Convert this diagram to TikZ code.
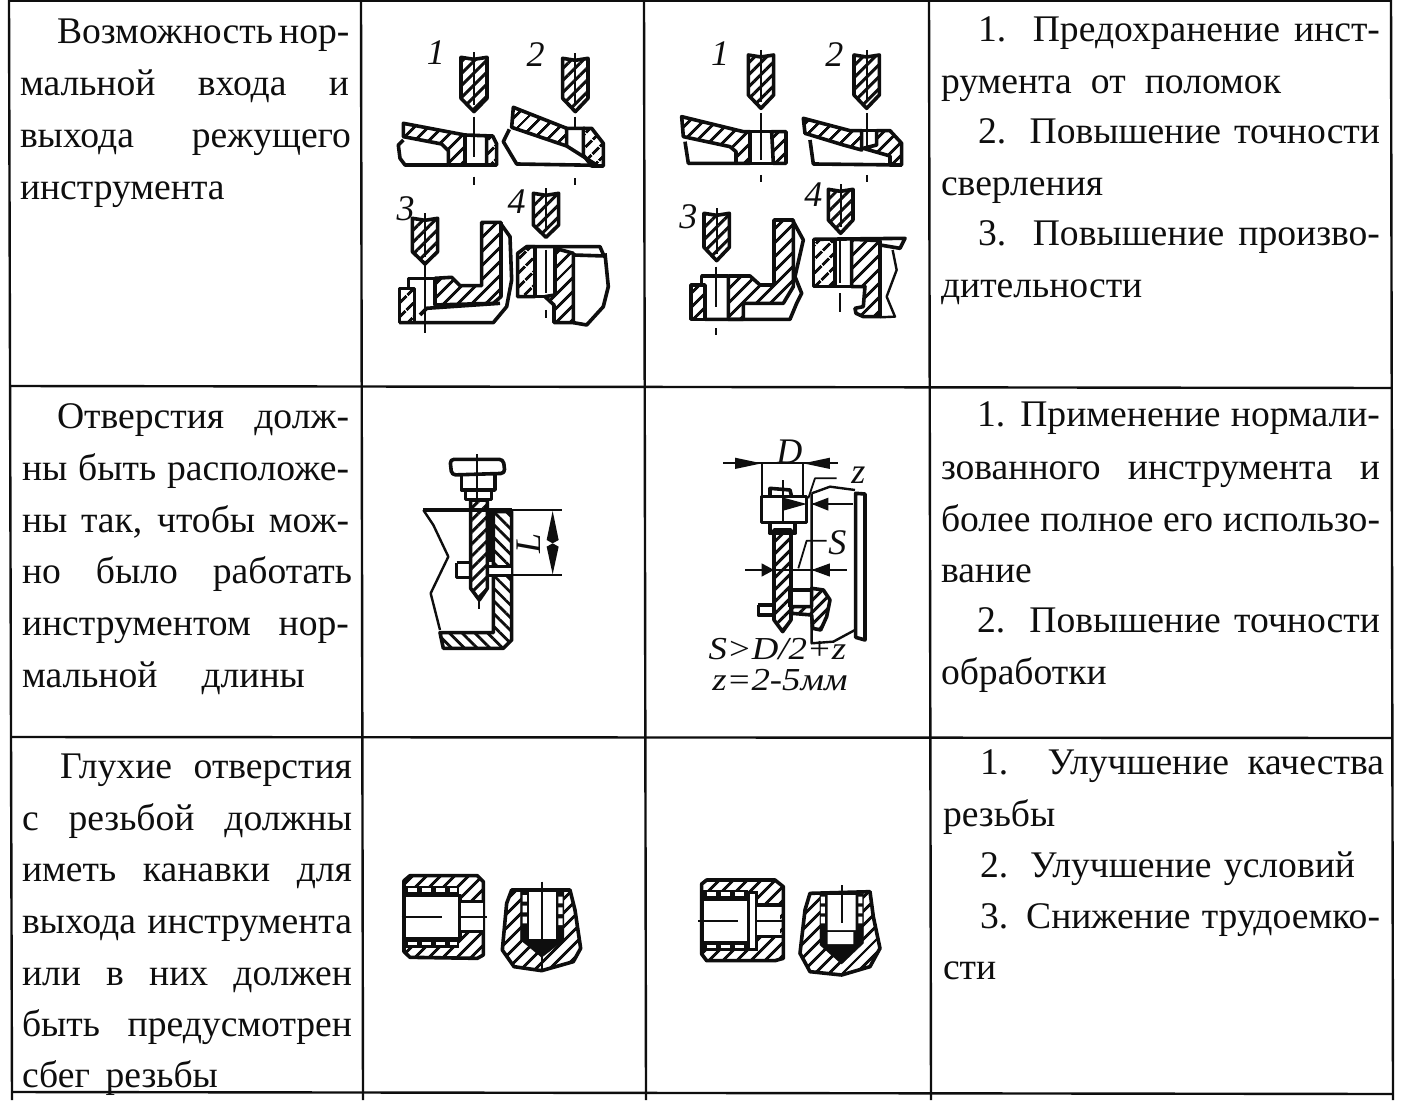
\documentclass[tikz,border=0pt]{standalone}
\usepackage{fontspec}
\setmainfont{Liberation Serif}
\usetikzlibrary{patterns.meta}
\definecolor{ink}{HTML}{0E0E0E}
\tikzset{
  rule/.style={draw=ink,line width=2.4pt},
  txt/.style={inner sep=0pt,outer sep=0pt,anchor=base west,text=ink,font=\fontsize{37.6}{40}\selectfont},
  lab/.style={inner sep=0pt,text=ink,font=\fontsize{36}{36}\itshape\selectfont},
  formula/.style={inner sep=0pt,text=ink,font=\fontsize{32}{32}\itshape\selectfont},
  sec/.style={draw=ink,line width=3.6pt,line join=round,pattern color=ink,pattern={Lines[angle=45,distance=10.5pt,line width=3.2pt]}},
  secb/.style={draw=ink,line width=3.6pt,line join=round,pattern color=ink,pattern={Lines[angle=-45,distance=9pt,line width=2.8pt]}},
  drillsec/.style={sec,pattern={Lines[angle=45,distance=8.5pt,line width=3pt]}},
  thick part/.style={draw=ink,line width=3.6pt,line join=round},
  thin part/.style={draw=ink,line width=1.8pt,line join=round},
  wavy part/.style={draw=ink,line width=2.4pt,line join=round},
  band/.style={draw=ink,line width=9pt},
  gaps/.style={draw=white,line width=3.5pt,dash pattern=on 9pt off 5pt},
  arr/.style={fill=ink,draw=none},
}
\newcommand\tl[5]{\node[txt] (#1) at (#2,#3) {\makebox[#4pt][s]{#5}};}
\newcommand\drill[5]{%
  \filldraw[drillsec] ({#1-#5},#2)--(#1,{#2+6})--({#1+#5},#2)--({#1+#5},#3)--(#1,#4)--({#1-#5},#3)--cycle;
  \draw[thin part] (#1,{#2-15})--(#1,{#4-20});}
\begin{document}
\begin{tikzpicture}[x=1pt,y=-1pt]
\useasboundingbox (0,0) rectangle (1410,1100);
\fill[white] (0,0) rectangle (1410,1100);
% table rules
\draw[rule] (9,0)--(12,1100);
\draw[rule] (361,0)--(363,1100);
\draw[rule] (644,0)--(646,1100);
\draw[rule] (929,0)--(931,1100);
\draw[rule] (1391,0)--(1393,1100);
\draw[rule] (9,1)--(1391,1);
\draw[rule] (10,386)--(1392,388);
\draw[rule] (11,737)--(1392,738);
\draw[rule] (12,1092)--(1393,1094);
% column 1
\tl{a1}{57}{43}{292}{Возможность нор-}
\tl{a2}{20}{95}{329}{мальной входа и}
\tl{a3}{20}{147}{331}{выхода режущего}
\tl{a4}{20}{199}{202}{инструмента}
\tl{b1}{57}{428}{292}{Отверстия долж-}
\tl{b2}{22}{480}{327}{ны быть расположе-}
\tl{b3}{22}{532}{327}{ны так, чтобы мож-}
\tl{b4}{22}{583}{330}{но было работать}
\tl{b5}{22}{635}{327}{инструментом нор-}
\tl{b6}{22}{687}{283}{мальной длины}
\tl{c1}{60}{778}{292}{Глухие отверстия}
\tl{c2}{22}{830}{330}{с резьбой должны}
\tl{c3}{22}{881}{330}{иметь канавки для}
\tl{c4}{22}{933}{330}{выхода инструмента}
\tl{c5}{22}{985}{330}{или в них должен}
\tl{c6}{22}{1036}{330}{быть предусмотрен}
\tl{c7}{22}{1087}{196}{сбег резьбы}
% column 4
\tl{d1}{978}{41}{402}{1. Предохранение инст-}
\tl{d2}{941}{93}{340}{румента от поломок}
\tl{d3}{978}{143}{402}{2. Повышение точности}
\tl{d4}{941}{195}{164}{сверления}
\tl{d5}{978}{245}{402}{3. Повышение произво-}
\tl{d6}{941}{297}{199}{дительности}
\tl{e1}{977}{426}{403}{1. Применение нормали-}
\tl{e2}{941}{479}{439}{зованного инструмента и}
\tl{e3}{941}{531}{439}{более полное его использо-}
\tl{e4}{941}{582}{94}{вание}
\tl{e5}{977}{632}{403}{2. Повышение точности}
\tl{e6}{941}{684}{166}{обработки}
\tl{f1}{980}{774}{404}{1. Улучшение качества}
\tl{f2}{943}{826}{110}{резьбы}
\tl{f3}{980}{877}{375}{2. Улучшение условий}
\tl{f4}{980}{928}{400}{3. Снижение трудоемко-}
\tl{f5}{943}{979}{51}{сти}
% ---------- row 1, left drawing
\begin{scope}[shift={(370pt,-20pt)},x=0.3333pt,y=-0.3333pt]
\node[lab] (n1) at (198,97) {1};
\node[lab] (n2) at (497,105) {2};
\node[lab] (n3) at (107,565) {3};
\node[lab] (n4) at (440,545) {4};
\drill{312}{112}{235}{275}{39}
\drill{616}{115}{235}{275}{38}
\drill{165}{595}{695}{732}{38}
\drill{528}{520}{615}{652}{38}
% part 1
\filldraw[sec] (100,310)--(285,345)--(285,435)--(235,435)--(235,392)--(215,372)--(100,350)--cycle;
\filldraw[sec] (350,348)--(368,348)--(380,372)--(380,435)--(350,435)--cycle;
\draw[thick part] (285,345)--(365,348) (282,435)--(352,435);
\draw[thick part] (100,360)--(85,375)--(90,415)--(105,435)--(235,435);
\draw[thin part] (312,290)--(312,410) (312,470)--(312,495);
% part 2
\filldraw[sec] (430,262)--(590,325)--(590,378)--(425,322)--cycle;
\filldraw[sec] (640,325)--(665,325)--(700,370)--(700,438)--(665,438)--(640,405)--cycle;
\draw[thick part] (585,325)--(645,325) (590,378)--(680,435);
\draw[thick part] (418,328)--(400,365)--(440,432)--(680,436);
\draw[thin part] (616,290)--(616,320) (616,475)--(616,495);
% part 3
\filldraw[sec] (88,805)--(133,805)--(133,908)--(88,908)--cycle;
\filldraw[sec] (195,775)--(245,772)--(270,797)--(335,797)--(335,607)--(393,607)--(393,830)--(370,850)--(195,855)--cycle;
\draw[thick part] (115,805)--(115,775)--(195,775);
\draw[thick part] (88,908)--(370,908)--(410,860)--(425,780)--(420,650)--(395,615);
\draw[thick part] (150,885)--(170,865)--(390,850);
\draw[thin part] (165,735)--(165,940);
% part 4
\filldraw[sec] (443,700)--(470,680)--(495,680)--(495,830)--(443,830)--cycle;
\filldraw[sec] (555,685)--(610,700)--(610,908)--(552,908)--(552,855)--(525,830)--(555,825)--cycle;
\draw[thick part] (470,680)--(690,680)--(702,708)--(610,705);
\draw[thick part] (495,830)--(525,830);
\draw[thick part] (610,908)--(650,915)--(700,860)--(715,800)--(705,700);
\draw[thin part] (528,690)--(528,820) (528,870)--(528,895);
\end{scope}
% ---------- row 1, right drawing
\begin{scope}[shift={(650pt,-20pt)},x=0.3333pt,y=-0.3333pt]
\node[lab] (m1) at (210,100) {1};
\node[lab] (m2) at (553,105) {2};
\node[lab] (m3) at (115,590) {3};
\node[lab] (m4) at (490,525) {4};
\drill{333}{105}{225}{265}{38}
\drill{650}{105}{225}{265}{38}
\drill{200}{580}{682}{722}{38}
\drill{572}{508}{600}{640}{37}
% part 1
\filldraw[sec] (95,290)--(280,335)--(300,335)--(300,430)--(258,430)--(258,395)--(240,380)--(100,350)--cycle;
\filldraw[sec] (365,335)--(408,335)--(408,430)--(370,430)--cycle;
\draw[thick part] (300,335)--(365,335) (300,430)--(370,430);
\draw[thick part] (105,365)--(115,430)--(258,430);
\draw[thin part] (333,280)--(333,420) (333,465)--(333,485);
% part 2
\filldraw[sec] (460,295)--(600,332)--(635,332)--(635,390)--(580,375)--(465,340)--cycle;
\filldraw[sec] (680,332)--(720,332)--(755,370)--(755,435)--(720,435)--(720,408)--(640,385)--(680,375)--cycle;
\draw[thick part] (635,332)--(680,332);
\draw[thick part] (480,360)--(490,432)--(755,435);
\draw[thin part] (650,280)--(650,385) (650,465)--(650,485);
% part 3
\filldraw[sec] (123,795)--(165,795)--(165,898)--(123,898)--cycle;
\filldraw[sec] (235,768)--(300,768)--(330,795)--(372,795)--(372,600)--(430,600)--(430,800)--(400,850)--(280,850)--(280,898)--(235,898)--cycle;
\draw[thick part] (155,795)--(155,768)--(235,768);
\draw[thick part] (165,898)--(420,898)--(440,850)--(455,820)--(435,770)--(460,660)--(430,605);
\draw[thin part] (198,740)--(198,860) (198,925)--(198,945);
% part 4
\filldraw[sec] (490,658)--(555,658)--(555,800)--(490,800)--cycle;
\filldraw[sec] (605,658)--(690,662)--(690,890)--(640,890)--(618,880)--(615,865)--(640,860)--(645,800)--(605,800)--cycle;
\draw[thick part] (490,658)--(765,655)--(750,685)--(690,675);
\draw[thick part] (555,800)--(605,800);
\draw[wavy part] (728,690)--(740,750)--(710,830)--(735,890)--(690,892);
\draw[thin part] (570,660)--(570,790) (570,820)--(570,875);
\end{scope}
% ---------- row 2, left drawing
\begin{scope}[shift={(400pt,-440pt)},x=0.3333pt,y=-0.3333pt]
\draw[thick part,rounded corners=4pt] (150,58)--(310,58)--(315,100)--(155,105)--cycle;
\draw[thick part] (185,105)--(185,150)--(285,150)--(285,105);
\draw[thick part] (197,150)--(197,178)--(275,178)--(275,150);
\draw[thin part] (230,42)--(230,178);
\filldraw[secb] (280,215)--(335,215)--(335,600)--(310,625)--(130,625)--(120,578)--(280,578)--cycle;
\draw[thick part] (70,210)--(335,210);
\draw[thin part] (335,210)--(485,210) (335,405)--(485,405);
\draw[wavy part] (70,210)--(100,255)--(145,350)--(92,460)--(120,570);
\draw[thick part] (170,368)--(210,368) (170,368)--(170,412)--(210,412);
\draw[thick part] (268,380)--(335,380) (262,407)--(335,407);
\fill[white] (262,383) rectangle (332,403);
\filldraw[drillsec] (212,180)--(262,180)--(262,445)--(238,480)--(212,445)--cycle;
\draw[thin part] (238,480)--(238,508);
\draw[wavy part] (272,215)--(272,365);
\fill[arr] (458,213)--(476,300)--(458,310)--(440,300)--cycle;
\fill[arr] (458,403)--(476,320)--(458,310)--(440,320)--cycle;
\node[lab,rotate=90] (ell) at (385,310) {L};
\end{scope}
% ---------- row 2, right drawing
\begin{scope}[shift={(690pt,-430pt)},x=0.3333pt,y=-0.3333pt]
\node[lab] (dd) at (298,65) {D};
\node[lab] (zz) at (505,135) {z};
\node[lab] (ss) at (442,337) {S};
\draw[thin part] (100,100)--(445,100);
\draw[thin part] (215,100)--(215,200) (340,100)--(340,200);
\fill[arr] (215,100)--(135,83)--(135,117)--cycle;
\fill[arr] (340,100)--(420,83)--(420,117)--cycle;
\draw[thick part] (215,200) rectangle (350,278);
\draw[thick part] (240,200)--(240,175)--(300,180)--(305,200);
\draw[thin part] (278,150)--(278,278);
\fill[arr] (350,222)--(280,203)--(280,242)--cycle;
\fill[arr] (365,222)--(415,203)--(415,242)--cycle;
\draw[thin part] (365,222)--(490,222);
\draw[thick part] (240,278)--(240,310)--(315,310)--(315,278);
\draw[thin part] (355,205)--(375,145)--(440,145);
\draw[thin part] (325,415)--(350,332)--(410,332);
\draw[thin part] (165,420)--(470,420);
\fill[arr] (252,420)--(215,400)--(215,440)--cycle;
\fill[arr] (365,420)--(420,400)--(420,440)--cycle;
\draw[thick part] (205,525)--(250,525) (205,525)--(205,555)--(250,555);
\filldraw[drillsec] (252,300)--(303,300)--(303,570)--(278,605)--(252,570)--cycle;
\filldraw[drillsec] (365,475)--(400,480)--(420,510)--(410,560)--(392,600)--(368,595)--(365,555)--(305,550)--(305,530)--(365,530)--cycle;
\draw[thick part] (300,480)--(365,480) (300,530)--(365,530) (300,480)--(300,530);
\draw[wavy part] (365,190)--(365,640)--(430,635)--(495,600);
\draw[wavy part] (365,190)--(420,170)--(495,180);
\draw[thick part] (497,190)--(525,192)--(525,630)--(497,622)--cycle;
\node[formula,anchor=base] (form1) at (262,688) {\scalebox{1.15}[1]{S>D/2+z}};
\node[formula,anchor=base] (form2) at (270,783) {\scalebox{1.15}[1]{z=2-5мм}};
\end{scope}
% ---------- row 3, left drawing
\begin{scope}[shift={(390pt,-860pt)},x=0.3333pt,y=-0.3333pt]
\filldraw[sec] (42,62)--(60,47)--(262,47)--(280,65)--(280,285)--(262,295)--(60,292)--(42,275)--cycle;
\draw[band] (45,90)--(208,90) (45,250)--(208,250);
\draw[gaps] (55,90)--(200,90) (55,250)--(200,250);
\fill[white] (44,104) rectangle (208,236);
\draw[thick part] (44,106)--(210,106)--(210,236)--(44,236)--cycle;
\fill[white] (212,125) rectangle (278,215);
\draw[thick part] (210,125)--(280,125) (210,215)--(280,215);
\draw[thin part] (35,170)--(155,170) (210,170)--(290,170);
\filldraw[sec] (365,90)--(540,90)--(555,150)--(572,265)--(550,305)--(455,332)--(372,320)--(337,270)--(350,130)--cycle;
\filldraw[draw=ink,fill=ink] (392,95)--(522,95)--(522,240)--(455,292)--(392,240)--cycle;
\fill[white] (416,97) rectangle (498,238);
\fill[white] (398,105) rectangle (411,125) (398,137) rectangle (411,157) (398,170) rectangle (411,190);
\fill[white] (505,110) rectangle (518,130) (505,142) rectangle (518,162) (505,175) rectangle (518,195);
\draw[thin part] (455,65)--(455,335);
\end{scope}
% ---------- row 3, right drawing
\begin{scope}[shift={(685pt,-860pt)},x=0.3333pt,y=-0.3333pt]
\filldraw[sec] (50,72)--(65,60)--(270,60)--(295,80)--(295,295)--(270,302)--(65,302)--(50,282)--cycle;
\draw[band] (55,102)--(190,102) (55,260)--(190,260);
\draw[gaps] (65,102)--(185,102) (65,260)--(185,260);
\fill[white] (55,118) rectangle (190,248);
\draw[thick part] (52,118)--(190,118)--(190,248)--(52,248)--cycle;
\filldraw[draw=ink,line width=2.8pt,fill=white] (192,98) rectangle (214,268);
\fill[white] (216,135) rectangle (285,230);
\draw[thick part] (214,135)--(290,135) (214,230)--(290,230);
\draw[thin part] (40,183)--(160,183) (215,183)--(300,183);
\filldraw[sec] (375,100)--(555,95)--(565,170)--(585,265)--(555,320)--(470,345)--(375,335)--(345,280)--(360,150)--cycle;
\filldraw[draw=ink,fill=ink] (405,100)--(535,100)--(535,250)--(470,312)--(405,255)--cycle;
\fill[white] (428,105) rectangle (512,210) (428,216) rectangle (505,252);
\fill[white] (408,110) rectangle (420,130) (408,140) rectangle (420,160) (408,170) rectangle (420,190);
\fill[white] (520,110) rectangle (532,130) (520,140) rectangle (532,160) (520,170) rectangle (532,190);
\draw[thin part] (470,75)--(470,190);
\end{scope}
\end{tikzpicture}
\end{document}
